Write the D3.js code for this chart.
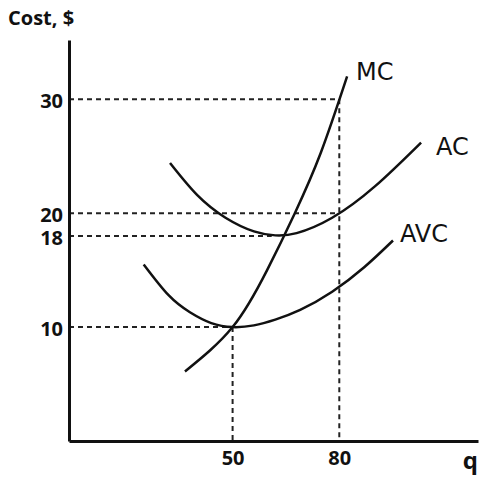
<!DOCTYPE html>
<meta charset="utf-8">
<script src="https://d3js.org/d3.v7.min.js"></script>
<style>
  body { margin: 0; background: #fff; }
</style>
<div id="chart"></div>
<script>
  // cost curves as [q, cost]
  const mcData  = [[36.6, 6.1], [50, 10], [59.7, 15.0], [67.5, 20.0], [74.8, 25.3], [82.2, 32.0]];
  const acData  = [[32.4, 24.4], [40, 21.6], [48, 19.6], [56, 18.4], [62, 18.05], [68, 18.25],
                   [78, 19.6], [90, 22.35], [103, 26.2]];
  const avcData = [[25, 15.5], [32, 12.8], [38, 11.3], [44, 10.35], [50, 10.0], [56, 10.15],
                   [62, 10.65], [69, 11.5], [78, 13.1], [87, 15.25], [95.1, 17.6]];
  const curveNames = ["MC", "AC", "AVC"];

  const yTicks = [10, 18, 20, 30];
  const xTicks = [50, 80];

  // guide lines: [q where it stops, cost]
  const hGuides = [[80, 30], [80, 20], [61, 18], [50, 10]];
  const vGuides = [[80, 30], [50, 10]];

  const width = 498, height = 482;

  const x = d3.scaleLinear().domain([4, 119]).range([69, 478]);
  const y = d3.scaleLinear().domain([0, 35.2]).range([441, 40]);

  const svg = d3.select("#chart")
    .append("svg")
      .attr("width", width)
      .attr("height", height);

  // dashed guides
  svg.append("g")
    .selectAll("line")
    .data(hGuides)
    .join("line")
      .attr("x1", x(4))
      .attr("x2", d => x(d[0]))
      .attr("y1", d => y(d[1]))
      .attr("y2", d => y(d[1]))
      .attr("stroke", "#222")
      .attr("stroke-width", 2)
      .attr("stroke-dasharray", "5,4");

  svg.append("g")
    .selectAll("line")
    .data(vGuides)
    .join("line")
      .attr("x1", d => x(d[0]))
      .attr("x2", d => x(d[0]))
      .attr("y1", d => y(d[1]))
      .attr("y2", y(0))
      .attr("stroke", "#222")
      .attr("stroke-width", 2)
      .attr("stroke-dasharray", "5,4");

  // curves
  const line = d3.line()
    .curve(d3.curveNatural)
    .x(d => x(d[0]))
    .y(d => y(d[1]));

  const series = [mcData, acData, avcData];
  svg.append("g")
    .selectAll("path")
    .data(series)
    .join("path")
      .attr("d", line)
      .attr("fill", "none")
      .attr("stroke", "#111")
      .attr("stroke-width", 2.5);

  // curve labels next to the end of each curve
  const labelOffsets = [[9, 4], [15, 12], [7, 1]];
  svg.append("g")
    .selectAll("text")
    .data(series)
    .join("text")
      .attr("x", (d, i) => x(d[d.length - 1][0]) + labelOffsets[i][0])
      .attr("y", (d, i) => y(d[d.length - 1][1]) + labelOffsets[i][1])
      .attr("font-family", "DejaVu Sans, sans-serif")
      .attr("font-size", 24)
      .attr("fill", "#111")
      .text((d, i) => curveNames[i]);

  // axes
  const yAxis = svg.append("g")
    .attr("transform", `translate(${x(4)},0)`)
    .call(d3.axisLeft(y).tickValues(yTicks).tickSize(0).tickPadding(6).tickFormat(d3.format("d")));

  const xAxis = svg.append("g")
    .attr("transform", `translate(0,${y(0)})`)
    .call(d3.axisBottom(x).tickValues(xTicks).tickSize(0).tickPadding(10).tickFormat(d3.format("d")));

  [yAxis, xAxis].forEach(g => {
    g.select(".domain").attr("stroke", "#111").attr("stroke-width", 3);
    g.selectAll("text")
      .attr("font-family", "Open Sans, sans-serif")
      .attr("font-weight", 700)
      .attr("font-size", 20)
      .attr("fill", "#111");
  });
  yAxis.selectAll("text").attr("dy", "0.42em");

  // axis titles
  svg.append("text")
    .attr("x", 8)
    .attr("y", 25)
    .attr("font-family", "Open Sans, sans-serif")
    .attr("font-weight", 700)
    .attr("font-size", 20)
    .attr("fill", "#111")
    .text("Cost, $");

  svg.append("text")
    .attr("x", 478)
    .attr("y", 469)
    .attr("text-anchor", "end")
    .attr("font-family", "Open Sans, sans-serif")
    .attr("font-weight", 700)
    .attr("font-size", 24)
    .attr("fill", "#111")
    .text("q");
</script>
